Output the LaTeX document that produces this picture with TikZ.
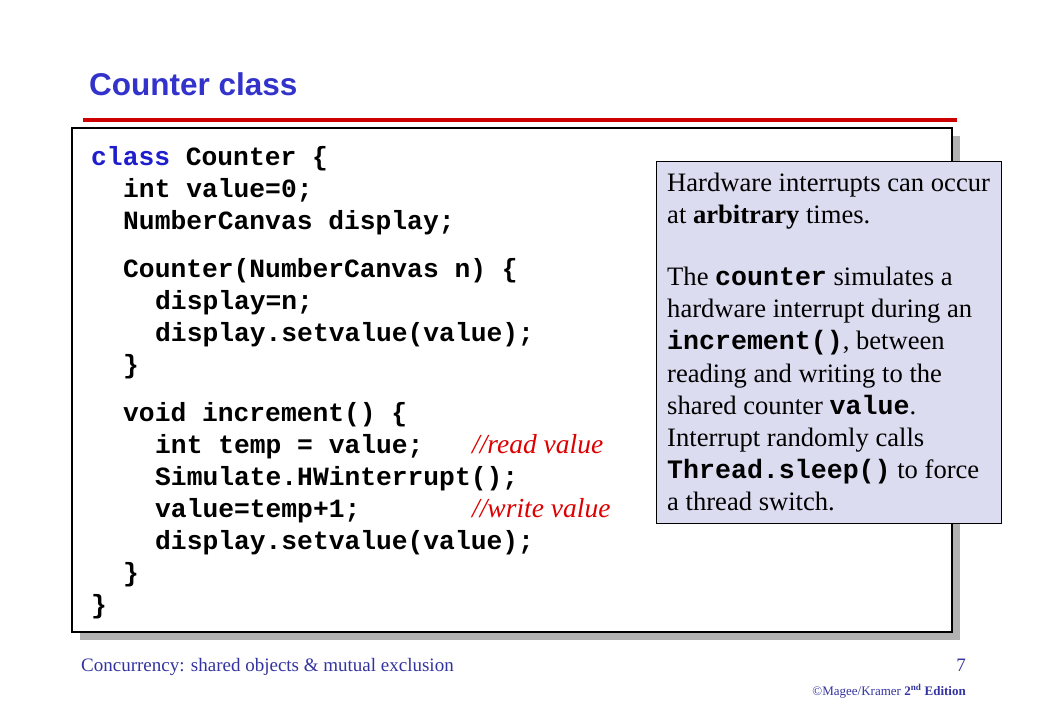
\documentclass[tikz,border=0pt]{standalone}
\usepackage{fontspec}
\setmainfont{Liberation Serif}
\newfontfamily\arialfont{Liberation Sans}
\newfontfamily\codefont{Liberation Mono}
\definecolor{titleblue}{RGB}{51,51,204}
\definecolor{kwblue}{RGB}{30,30,205}
\definecolor{rulered}{RGB}{204,0,0}
\definecolor{cmtred}{RGB}{221,0,0}
\definecolor{footblue}{RGB}{51,51,160}
\definecolor{shadowgray}{RGB}{178,178,178}
\definecolor{notefill}{RGB}{220,220,240}
\newcommand{\cmono}[1]{{\codefont\bfseries #1}}
\tikzset{
  codeline/.style={anchor=base west, inner sep=0pt, font=\codefont\bfseries\fontsize{26.3}{32}\selectfont},
  comment/.style={anchor=base west, inner sep=0pt, text=cmtred, font=\itshape\fontsize{27.5}{32}\selectfont},
  noteline/.style={anchor=base west, inner sep=0pt, font=\fontsize{26.6}{32}\selectfont},
  footer/.style={inner sep=0pt, text=footblue}
}
\begin{document}
\begin{tikzpicture}[x=1pt,y=-1pt]
\useasboundingbox (0,0) rectangle (1040,720);
% title
\node[anchor=base west, inner sep=0pt, text=titleblue, font=\arialfont\bfseries\fontsize{31.5}{36}\selectfont] (title) at (89,95) {Counter class};
\draw[rulered, line width=4pt] (83,120) -- (957,120);
% code box
\fill[shadowgray] (80,136) rectangle (960,640);
\draw[fill=white, line width=1.3pt] (72,128) rectangle (952,632);
\node[codeline] (l1) at (91,165) {\textcolor{kwblue}{class} Counter \{};
\node[codeline] (l2) at (123,197) {int value=0;};
\node[codeline] (l3) at (123,229) {NumberCanvas display;};
\node[codeline] (l4) at (123,277) {Counter(NumberCanvas n) \{};
\node[codeline] (l5) at (155,309) {display=n;};
\node[codeline] (l6) at (155,341) {display.setvalue(value);};
\node[codeline] (l7) at (123,373) {\}};
\node[codeline] (l8) at (123,421) {void increment() \{};
\node[codeline] (l9) at (155,453) {int temp = value;};
\node[codeline] (l10) at (155,485) {Simulate.HWinterrupt();};
\node[codeline] (l11) at (155,517) {value=temp+1;};
\node[codeline] (l12) at (155,549) {display.setvalue(value);};
\node[codeline] (l13) at (123,581) {\}};
\node[codeline] (l14) at (91,613) {\}};
\node[comment] (c1) at (472,453) {//read value};
\node[comment] (c2) at (472,517) {//write value};
% note box
\draw[fill=notefill, line width=0.9pt] (656,161) rectangle (1001,523);
\node[noteline] (n1) at (667,191) {Hardware interrupts can occur};
\node[noteline] (n2) at (667,223) {at \textbf{arbitrary} times.};
\node[noteline] (n3) at (667,285) {The \cmono{counter} simulates a};
\node[noteline] (n4) at (667,317) {hardware interrupt during an};
\node[noteline] (n5) at (667,349) {\cmono{increment()}, between};
\node[noteline] (n6) at (667,382) {reading and writing to the};
\node[noteline] (n7) at (667,414) {shared counter \cmono{value}.};
\node[noteline] (n8) at (667,446) {Interrupt randomly calls};
\node[noteline] (n9) at (667,478) {\cmono{Thread.sleep()} to force};
\node[noteline] (n10) at (667,510) {a thread switch.};
% footer
\node[footer, anchor=base west, font=\fontsize{19}{22}\selectfont] (f1) at (81,671) {Concurrency: shared objects \& mutual exclusion};
\node[footer, anchor=base east, font=\fontsize{19}{22}\selectfont] (f2) at (966,671) {7};
\node[footer, anchor=base east, font=\fontsize{13}{15}\selectfont] (f3) at (966,695) {\textcopyright Magee/Kramer \textbf{2\textsuperscript{nd} Edition}};
\end{tikzpicture}
\end{document}
